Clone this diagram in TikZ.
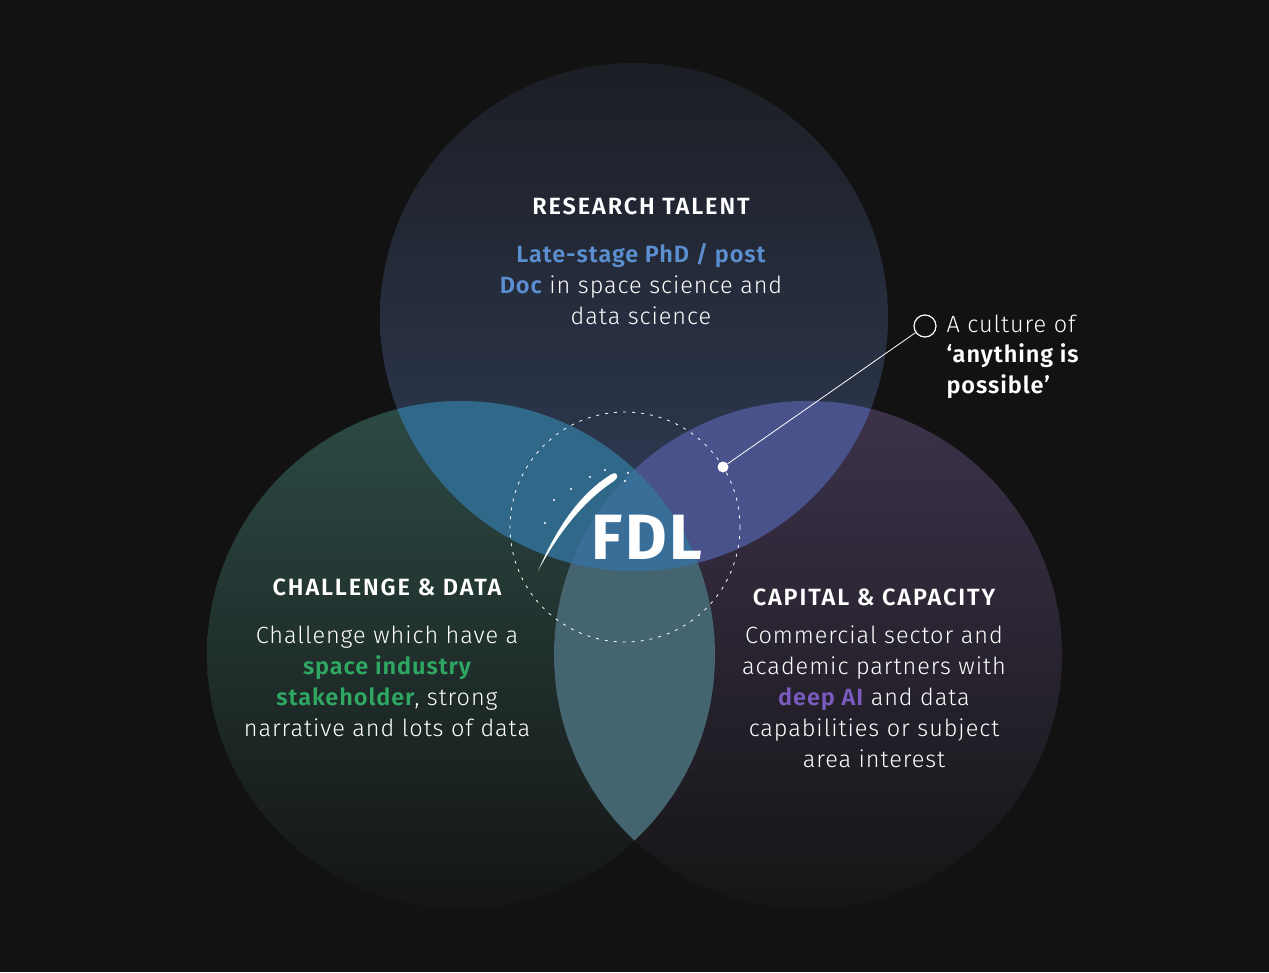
\documentclass[tikz,border=0pt]{standalone}
\usepackage{fontspec}
\setmainfont{Fira Sans Light}[BoldFont=Fira Sans SemiBold,LetterSpace=4]
\newfontfamily\headfont{Fira Sans SemiBold}[LetterSpace=8]
\newfontfamily\logofont{Fira Sans Bold}[LetterSpace=4]
\definecolor{bg}{HTML}{121212}
\definecolor{tb}{HTML}{5B8FD0}
\definecolor{tg}{HTML}{2EA862}
\definecolor{tp}{HTML}{7A5CC0}
\tikzset{
 body/.style={text=white,align=center,font=\fontsize{23.5}{31}\selectfont},
 head/.style={text=white,font=\fontsize{23.5}{28}\headfont},
}
\begin{document}
\begin{tikzpicture}[x=1pt,y=-1pt]
\fill[bg] (0,0) rectangle (1269,972);
\def\T{(634,317) circle (254)}
\def\L{(461,655) circle (254)}
\def\R{(808,655) circle (254)}
\shade[top color={rgb,255:red,28;green,30;blue,36}, bottom color={rgb,255:red,48;green,61;blue,88}] \T;
\shade[shading angle=45, top color={rgb,255:red,44;green,74;blue,68}, bottom color={rgb,255:red,20;green,21;blue,21}] \L;
\shade[shading angle=-45, top color={rgb,255:red,60;green,50;blue,74}, bottom color={rgb,255:red,21;green,21;blue,22}] \R;
\begin{scope}\clip \T; \fill[fill={rgb,255:red,48;green,104;blue,138}] \L; \fill[fill={rgb,255:red,74;green,82;blue,140}] \R; \end{scope}
\begin{scope}\clip \L; \fill[fill={rgb,255:red,68;green,100;blue,112}] \R; \end{scope}
\begin{scope}\clip \T; \clip \L; \fill[fill={rgb,255:red,56;green,110;blue,152}] \R; \end{scope}
\draw[white,dash pattern=on 3pt off 6pt,line width=0.8pt] (625,527) circle (115);
\node[draw=white,line width=1.2pt,circle,minimum size=22,inner sep=0] (ring) at (925,326) {};
\node[fill=white,circle,minimum size=11,inner sep=0] (dot) at (723,467) {};
\draw[white,line width=0.8pt] (dot) -- (ring);
\node[head] (rt) at (641,206) {RESEARCH TALENT};
\node[body] (rtb) at (641,284) {\textbf{\color{tb}Late-stage PhD / post}\\\textbf{\color{tb}Doc} in space science and\\data science};
\node[head] (cd) at (387,587) {CHALLENGE \& DATA};
\node[body] (cdb) at (387,681) {Challenge which have a\\\textbf{\color{tg}space industry}\\\textbf{\color{tg}stakeholder}, strong\\narrative and lots of data};
\node[head] (cc) at (874,597) {CAPITAL \& CAPACITY};
\node[body] (ccb) at (874,697) {Commercial sector and\\academic partners with\\\textbf{\color{tp}deep AI} and data\\capabilities or subject\\area interest};
\node[body,align=left,anchor=north west] (cul) at (943,311) {A culture of\\\textbf{‘anything is}\\\textbf{possible’}};
\node[text=white,font=\fontsize{64}{64}\logofont] (fdl) at (647,537) {FDL};
\fill[white] (538,571) .. controls (560,520) and (585,490) .. (612,474) .. controls (618,471) and (619,478) .. (614,481) .. controls (585,500) and (560,530) .. (538,571) -- cycle;
\foreach \p in {(590,477),(605,470),(625,481),(628,473),(571,489),(554,500),(545,523),(600,483)} \fill[white] \p circle (1.2);
\end{tikzpicture}
\end{document}
